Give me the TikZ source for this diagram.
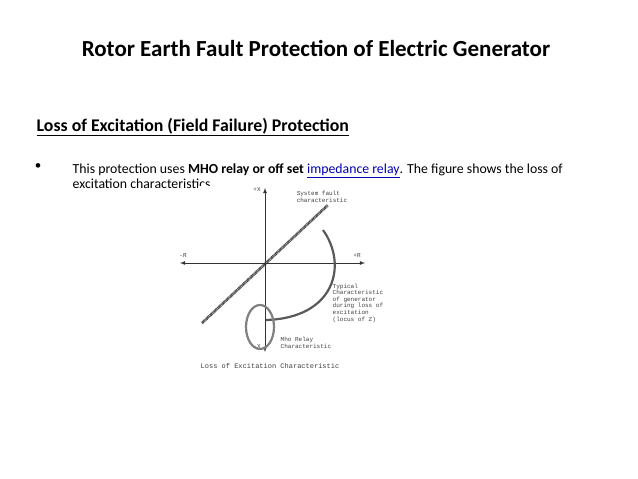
\documentclass[tikz,border=0pt]{standalone}
\usepackage{fontspec}
\setmainfont{Carlito}
\setmonofont{Liberation Mono}
\usetikzlibrary{calc}

\begin{document}
\begin{tikzpicture}[x=1pt,y=-1pt,line width=0.8pt]
\useasboundingbox (0,0) rectangle (638,479);
\tikzset{small/.style={font=\ttfamily\fontsize{6}{6.6}\selectfont,align=left,text=black!75}}

% texts
\node (title) at (316,48) {\fontsize{23}{26}\selectfont\bfseries Rotor Earth Fault Protection of Electric Generator};
\node[anchor=west] (head) at (33,127) {\fontsize{17.8}{20}\selectfont\bfseries\underline{Loss of Excitation (Field Failure) Protection}};
\node (bul) at (38,167) {\fontsize{13}{14}\selectfont\textbullet};
\node[anchor=west,align=left] (txt) at (69,176) {\fontsize{13.8}{18}\selectfont This protection uses \textbf{MHO relay or off set} \textcolor{blue!70!black}{\underline{impedance relay}}. The figure shows the loss of\\\fontsize{13.8}{18}\selectfont excitation characteristics};
\fill[white] (198,186) rectangle (380,200);

% axes
\draw[black!80,<->,>=latex] (180,263)--(365,263);
\draw[black!80,<->,>=latex] (265,188)--(265,352);
\node[small] (xp) at (257,190) {+X};
\node[small] (xm) at (257,347) {-X};
\node[small] (rm) at (183,256) {-R};
\node[small] (rp) at (357,256) {+R};

% system fault line
\draw[line width=2.8pt,black!80,dash pattern=on 0.6pt off 0.6pt] (202,323)--(328,205);
\node[small] (sys) at (322,197) {System fault\\characteristic};

% locus
\coordinate (lstart) at (323,230);
\coordinate (lend) at (266,320);
\draw[line width=2.2pt,black!65] (lstart) .. controls (348,265) and (335,318) .. (lend);
\node[small,anchor=west] (typ) at (329,303) {Typical\\Characteristic\\of generator\\during loss of\\excitation\\(locus of Z)};

% mho circle
\draw[line width=2.2pt,black!50] (260,327) ellipse[x radius=14,y radius=22];
\node[small,anchor=west] (mho) at (277,343) {Mho Relay\\Characteristic};
\node[small,font=\ttfamily\fontsize{7}{8}\selectfont] (cap) at (270,366) {Loss of Excitation Characteristic};
\end{tikzpicture}
\end{document}
